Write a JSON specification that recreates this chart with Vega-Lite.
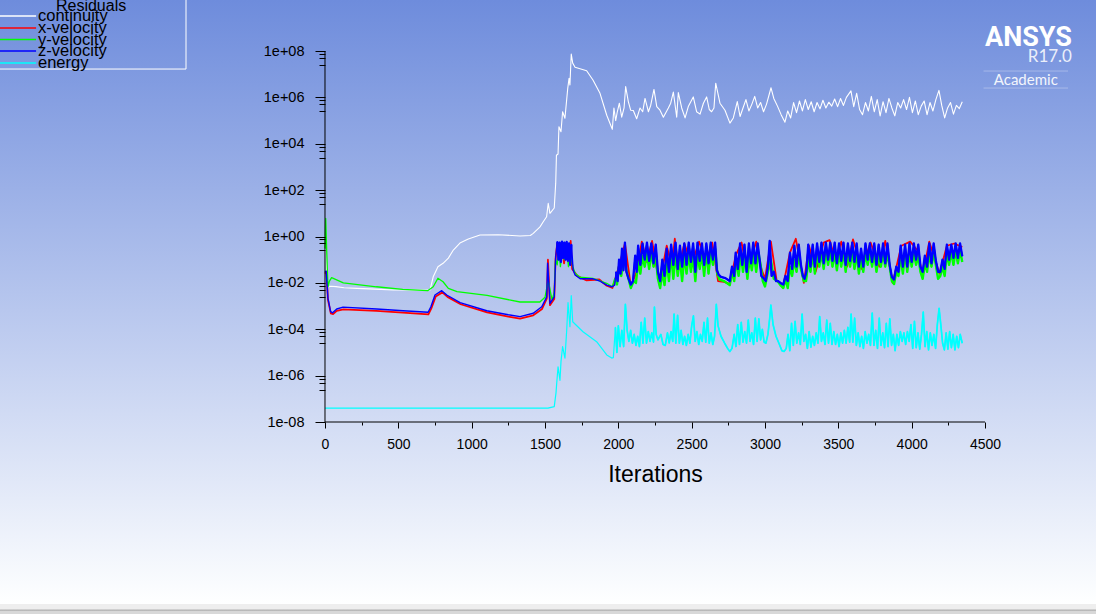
{
  "$schema": "https://vega.github.io/schema/vega-lite/v6.json",
  "description": "ANSYS Fluent scaled residuals against iterations",
  "width": 1096,
  "height": 614,
  "padding": 0,
  "autosize": "none",
  "view": {"stroke": null},
  "config": {"font": "Liberation Sans"},
  "datasets": {
    "continuity": [
      {"i":0,"r":1.1},{"i":4,"r":0.9},{"i":10,"r":0.05},{"i":18,"r":0.0066},{"i":40,"r":0.0072},{"i":75,"r":0.0069},{"i":130,"r":0.0062},{"i":218,"r":0.0058},{"i":340,"r":0.0054},{"i":466,"r":0.0049},{"i":600,"r":0.0049},{"i":716,"r":0.0049},{"i":738,"r":0.0184},{"i":770,"r":0.05},{"i":805,"r":0.07},{"i":841,"r":0.117},{"i":875,"r":0.26},{"i":920,"r":0.52},{"i":977,"r":0.78},{"i":1057,"r":1.16},{"i":1180,"r":1.2},{"i":1330,"r":1.05},{"i":1400,"r":1.1},{"i":1420,"r":1.37},{"i":1466,"r":2.6},{"i":1488,"r":4.3},{"i":1511,"r":7.1},{"i":1522,"r":27},{"i":1534,"r":10},{"i":1563,"r":17},{"i":1573,"r":200},{"i":1578,"r":3200},{"i":1589,"r":3600},{"i":1595,"r":54000},{"i":1609,"r":33000},{"i":1620,"r":240000},{"i":1636,"r":126000},{"i":1655,"r":2450000},{"i":1664,"r":6600000},{"i":1670,"r":3400000},{"i":1679,"r":74000000},{"i":1689,"r":30000000},{"i":1705,"r":20000000},{"i":1784,"r":14000000},{"i":1827,"r":5600000},{"i":1875,"r":1500000},{"i":1921,"r":170000},{"i":1959,"r":42000},
      {"i":1970,"r":350000},{"i":1982,"r":100000},{"i":1993,"r":240000},{"i":2007,"r":560000},{"i":2023,"r":140000},{"i":2039,"r":350000},{"i":2050,"r":2900000},{"i":2068,"r":660000},{"i":2084,"r":280000},{"i":2102,"r":270000},{"i":2125,"r":120000},{"i":2148,"r":350000},{"i":2166,"r":240000},{"i":2182,"r":900000},{"i":2205,"r":240000},{"i":2221,"r":460000},{"i":2243,"r":2200000},{"i":2262,"r":400000},{"i":2284,"r":280000},{"i":2307,"r":140000},{"i":2341,"r":350000},{"i":2357,"r":560000},{"i":2375,"r":1700000},{"i":2398,"r":140000},{"i":2409,"r":1600000},{"i":2432,"r":350000},{"i":2455,"r":130000},{"i":2477,"r":400000},{"i":2511,"r":1050000},{"i":2534,"r":240000},{"i":2557,"r":190000},{"i":2580,"r":560000},{"i":2602,"r":1050000},{"i":2620,"r":300000},{"i":2636,"r":240000},{"i":2652,"r":350000},{"i":2664,"r":4100000},{"i":2693,"r":560000},{"i":2727,"r":280000},{"i":2761,"r":78000},{"i":2784,"r":130000},{"i":2811,"r":660000},{"i":2830,"r":150000},{"i":2850,"r":350000},{"i":2870,"r":800000},{"i":2890,"r":260000},{"i":2910,"r":500000},{"i":2930,"r":1100000},{"i":2950,"r":350000},{"i":2970,"r":600000},{"i":2990,"r":240000},{"i":3010,"r":500000},{"i":3041,"r":2600000},{"i":3060,"r":900000},{"i":3085,"r":420000},{"i":3110,"r":180000},{"i":3136,"r":85000},{"i":3155,"r":260000},{"i":3175,"r":130000},{"i":3195,"r":600000},{"i":3215,"r":220000},{"i":3235,"r":700000},{"i":3255,"r":260000},{"i":3275,"r":800000},{"i":3295,"r":300000},{"i":3315,"r":650000},{"i":3335,"r":240000},{"i":3355,"r":600000},{"i":3375,"r":320000},{"i":3395,"r":750000},{"i":3415,"r":350000},{"i":3435,"r":620000},{"i":3455,"r":420000},{"i":3475,"r":850000},{"i":3495,"r":400000},{"i":3515,"r":900000},{"i":3535,"r":450000},{"i":3555,"r":1000000},{"i":3586,"r":1900000},{"i":3605,"r":400000},{"i":3625,"r":1500000},{"i":3645,"r":300000},{"i":3665,"r":180000},{"i":3685,"r":600000},{"i":3705,"r":260000},{"i":3725,"r":1100000},{"i":3745,"r":240000},{"i":3765,"r":800000},{"i":3785,"r":160000},{"i":3805,"r":650000},{"i":3825,"r":220000},{"i":3845,"r":900000},{"i":3865,"r":350000},{"i":3885,"r":160000},{"i":3905,"r":600000},{"i":3925,"r":350000},{"i":3945,"r":800000},{"i":3965,"r":300000},{"i":3985,"r":1000000},{"i":4005,"r":220000},{"i":4025,"r":700000},{"i":4045,"r":180000},{"i":4065,"r":420000},{"i":4085,"r":700000},{"i":4105,"r":180000},{"i":4125,"r":600000},{"i":4145,"r":260000},{"i":4165,"r":800000},{"i":4186,"r":2000000},{"i":4205,"r":450000},{"i":4225,"r":130000},{"i":4245,"r":350000},{"i":4265,"r":600000},{"i":4285,"r":190000},{"i":4305,"r":450000},{"i":4325,"r":330000},{"i":4345,"r":650000}
    ],
    "xvel": [
      {"i":0,"r":0.025},{"i":10,"r":0.03},{"i":20,"r":0.0019},{"i":40,"r":0.00048},{"i":55,"r":0.00045},{"i":80,"r":0.00062},{"i":125,"r":0.00072},{"i":350,"r":0.00062},{"i":530,"r":0.00052},{"i":705,"r":0.00044},{"i":725,"r":0.0008},{"i":755,"r":0.0026},{"i":800,"r":0.0039},{"i":835,"r":0.0025},{"i":925,"r":0.0012},{"i":1105,"r":0.00054},{"i":1250,"r":0.00035},{"i":1330,"r":0.00029},{"i":1420,"r":0.0004},{"i":1480,"r":0.00075},{"i":1512,"r":0.0021},{"i":1520,"r":0.1},{"i":1534,"r":0.0011},{"i":1563,"r":0.002},{"i":1572,"r":0.11},{"i":1583,"r":0.5},
      {"i":1600,"r":0.1},{"i":1615,"r":0.55},{"i":1630,"r":0.07},{"i":1645,"r":0.5},{"i":1660,"r":0.08},{"i":1675,"r":0.65},{"i":1685,"r":0.04},{"i":1720,"r":0.02},{"i":1780,"r":0.013},{"i":1870,"r":0.014},{"i":1921,"r":0.0075},{"i":1960,"r":0.006},{"i":1985,"r":0.02},{"i":2020,"r":0.12},{"i":2045,"r":0.5},{"i":2085,"r":0.0075},{"i":2125,"r":0.03},{"i":2160,"r":0.6},{"i":2195,"r":0.08},{"i":2230,"r":0.65},{"i":2280,"r":0.009},{"i":2330,"r":0.4},{"i":2365,"r":0.05},{"i":2385,"r":0.8},{"i":2410,"r":0.04},{"i":2450,"r":0.5},{"i":2500,"r":0.06},{"i":2550,"r":0.6},{"i":2600,"r":0.08},{"i":2640,"r":0.55},{"i":2680,"r":0.012},{"i":2720,"r":0.011},{"i":2760,"r":0.009},{"i":2800,"r":0.15},{"i":2840,"r":0.55},{"i":2880,"r":0.03},{"i":2940,"r":0.6},{"i":2970,"r":0.05},{"i":3000,"r":0.015},{"i":3040,"r":0.6},{"i":3080,"r":0.012},{"i":3125,"r":0.0085},{"i":3170,"r":0.2},{"i":3210,"r":0.8},{"i":3265,"r":0.01},{"i":3300,"r":0.4},{"i":3345,"r":0.03},{"i":3400,"r":0.55},{"i":3440,"r":0.7},{"i":3480,"r":0.1},{"i":3520,"r":0.6},{"i":3560,"r":0.05},{"i":3600,"r":0.75},{"i":3660,"r":0.04},{"i":3720,"r":0.55},{"i":3780,"r":0.05},{"i":3820,"r":0.65},{"i":3870,"r":0.01},{"i":3930,"r":0.4},{"i":3990,"r":0.6},{"i":4040,"r":0.25},{"i":4075,"r":0.02},{"i":4120,"r":0.6},{"i":4190,"r":0.025},{"i":4240,"r":0.4},{"i":4290,"r":0.5},{"i":4345,"r":0.35}
    ],
    "yvel": [
      {"i":0,"r":0.3},{"i":5,"r":6},{"i":12,"r":0.2},{"i":20,"r":0.0068},{"i":30,"r":0.012},{"i":45,"r":0.017},{"i":125,"r":0.0101},{"i":350,"r":0.0068},{"i":530,"r":0.0053},{"i":700,"r":0.0046},{"i":738,"r":0.0068},{"i":770,"r":0.0158},{"i":805,"r":0.0112},{"i":841,"r":0.0058},{"i":900,"r":0.0042},{"i":1105,"r":0.0029},{"i":1330,"r":0.0015},{"i":1465,"r":0.0015},{"i":1500,"r":0.0024},{"i":1522,"r":0.013},{"i":1548,"r":0.0018},{"i":1563,"r":0.004},{"i":1572,"r":0.1},{"i":1583,"r":0.06},
      {"i":1595,"r":0.38},{"i":1605,"r":0.05},{"i":1618,"r":0.3},{"i":1630,"r":0.1},{"i":1645,"r":0.4},{"i":1660,"r":0.05},{"i":1672,"r":0.2},{"i":1690,"r":0.05},{"i":1705,"r":0.026},{"i":1740,"r":0.0175},{"i":1827,"r":0.0158},{"i":1921,"r":0.0096},{"i":1959,"r":0.0068},{"i":1975,"r":0.015},{"i":1990,"r":0.008},{"i":2005,"r":0.05},{"i":2020,"r":0.02},{"i":2035,"r":0.15},{"i":2050,"r":0.05},{"i":2065,"r":0.02},{"i":2085,"r":0.006},{"i":2105,"r":0.012},{"i":2120,"r":0.01},{"i":2135,"r":0.08},{"i":2150,"r":0.025},{"i":2165,"r":0.15},{"i":2180,"r":0.05},{"i":2195,"r":0.2},{"i":2210,"r":0.04},{"i":2225,"r":0.2},{"i":2240,"r":0.05},{"i":2255,"r":0.15},{"i":2270,"r":0.015},{"i":2285,"r":0.006},{"i":2300,"r":0.03},{"i":2315,"r":0.008},{"i":2330,"r":0.1},{"i":2345,"r":0.012},{"i":2360,"r":0.2},{"i":2375,"r":0.015},{"i":2390,"r":0.2},{"i":2405,"r":0.02},{"i":2420,"r":0.12},{"i":2435,"r":0.012},{"i":2450,"r":0.15},{"i":2465,"r":0.025},{"i":2480,"r":0.2},{"i":2495,"r":0.03},{"i":2510,"r":0.15},{"i":2525,"r":0.012},{"i":2540,"r":0.2},{"i":2555,"r":0.04},{"i":2570,"r":0.2},{"i":2585,"r":0.02},{"i":2600,"r":0.25},{"i":2615,"r":0.025},{"i":2630,"r":0.2},{"i":2645,"r":0.06},{"i":2660,"r":0.3},{"i":2675,"r":0.025},{"i":2690,"r":0.014},{"i":2720,"r":0.012},{"i":2760,"r":0.008},{"i":2775,"r":0.03},{"i":2790,"r":0.012},{"i":2805,"r":0.1},{"i":2820,"r":0.02},{"i":2835,"r":0.2},{"i":2850,"r":0.03},{"i":2865,"r":0.15},{"i":2880,"r":0.015},{"i":2895,"r":0.15},{"i":2910,"r":0.035},{"i":2925,"r":0.2},{"i":2940,"r":0.03},{"i":2955,"r":0.2},{"i":2970,"r":0.06},{"i":2985,"r":0.012},{"i":3000,"r":0.007},{"i":3020,"r":0.03},{"i":3040,"r":0.1},{"i":3060,"r":0.015},{"i":3085,"r":0.012},{"i":3105,"r":0.008},{"i":3125,"r":0.006},{"i":3140,"r":0.015},{"i":3155,"r":0.006},{"i":3170,"r":0.05},{"i":3185,"r":0.02},{"i":3200,"r":0.1},{"i":3215,"r":0.03},{"i":3230,"r":0.15},{"i":3245,"r":0.04},{"i":3265,"r":0.012},{"i":3280,"r":0.012},{"i":3295,"r":0.1},{"i":3310,"r":0.03},{"i":3325,"r":0.2},{"i":3340,"r":0.025},{"i":3355,"r":0.2},{"i":3370,"r":0.05},{"i":3385,"r":0.2},{"i":3400,"r":0.04},{"i":3415,"r":0.25},{"i":3430,"r":0.06},{"i":3445,"r":0.25},{"i":3460,"r":0.05},{"i":3475,"r":0.2},{"i":3490,"r":0.035},{"i":3505,"r":0.2},{"i":3520,"r":0.05},{"i":3535,"r":0.25},{"i":3550,"r":0.03},{"i":3565,"r":0.2},{"i":3580,"r":0.05},{"i":3595,"r":0.25},{"i":3610,"r":0.04},{"i":3625,"r":0.2},{"i":3640,"r":0.025},{"i":3655,"r":0.1},{"i":3670,"r":0.03},{"i":3685,"r":0.2},{"i":3700,"r":0.06},{"i":3715,"r":0.2},{"i":3730,"r":0.05},{"i":3745,"r":0.2},{"i":3760,"r":0.03},{"i":3775,"r":0.15},{"i":3790,"r":0.05},{"i":3805,"r":0.2},{"i":3820,"r":0.05},{"i":3835,"r":0.2},{"i":3850,"r":0.05},{"i":3865,"r":0.012},{"i":3880,"r":0.009},{"i":3895,"r":0.03},{"i":3910,"r":0.02},{"i":3925,"r":0.15},{"i":3940,"r":0.025},{"i":3955,"r":0.2},{"i":3970,"r":0.03},{"i":3985,"r":0.2},{"i":4000,"r":0.05},{"i":4015,"r":0.2},{"i":4030,"r":0.06},{"i":4045,"r":0.15},{"i":4060,"r":0.03},{"i":4075,"r":0.015},{"i":4090,"r":0.07},{"i":4105,"r":0.03},{"i":4120,"r":0.2},{"i":4135,"r":0.05},{"i":4150,"r":0.2},{"i":4165,"r":0.06},{"i":4180,"r":0.015},{"i":4195,"r":0.02},{"i":4210,"r":0.05},{"i":4225,"r":0.02},{"i":4240,"r":0.2},{"i":4255,"r":0.06},{"i":4270,"r":0.2},{"i":4285,"r":0.06},{"i":4300,"r":0.25},{"i":4315,"r":0.07},{"i":4330,"r":0.25},{"i":4345,"r":0.08}
    ],
    "zvel": [
      {"i":0,"r":0.03},{"i":8,"r":0.032},{"i":20,"r":0.0022},{"i":38,"r":0.00057},{"i":52,"r":0.00051},{"i":80,"r":0.00075},{"i":123,"r":0.0009},{"i":352,"r":0.00075},{"i":532,"r":0.00063},{"i":703,"r":0.00054},{"i":722,"r":0.00093},{"i":750,"r":0.003},{"i":796,"r":0.0046},{"i":830,"r":0.003},{"i":921,"r":0.0014},{"i":1103,"r":0.00063},{"i":1250,"r":0.00042},{"i":1330,"r":0.00035},{"i":1420,"r":0.00049},{"i":1478,"r":0.00093},{"i":1512,"r":0.0025},{"i":1518,"r":0.07},{"i":1534,"r":0.0013},{"i":1563,"r":0.0025},{"i":1573,"r":0.134},{"i":1584,"r":0.6},
      {"i":1592,"r":0.1},{"i":1600,"r":0.55},{"i":1608,"r":0.08},{"i":1616,"r":0.6},{"i":1624,"r":0.12},{"i":1632,"r":0.55},{"i":1640,"r":0.1},{"i":1648,"r":0.58},{"i":1656,"r":0.09},{"i":1664,"r":0.5},{"i":1672,"r":0.06},{"i":1680,"r":0.45},{"i":1692,"r":0.036},{"i":1705,"r":0.022},{"i":1740,"r":0.015},{"i":1827,"r":0.015},{"i":1875,"r":0.012},{"i":1921,"r":0.008},{"i":1955,"r":0.0068},
      {"i":1975,"r":0.008},{"i":1985,"r":0.03},{"i":1995,"r":0.012},{"i":2005,"r":0.1},{"i":2015,"r":0.025},{"i":2025,"r":0.3},{"i":2035,"r":0.035},{"i":2045,"r":0.55},{"i":2055,"r":0.03},{"i":2070,"r":0.015},{"i":2085,"r":0.0085},{"i":2100,"r":0.012},{"i":2115,"r":0.15},{"i":2125,"r":0.03},{"i":2135,"r":0.4},{"i":2150,"r":0.06},{"i":2165,"r":0.5},{"i":2180,"r":0.1},{"i":2195,"r":0.55},{"i":2210,"r":0.09},{"i":2225,"r":0.5},{"i":2240,"r":0.07},{"i":2255,"r":0.45},{"i":2270,"r":0.03},{"i":2285,"r":0.012},{"i":2300,"r":0.1},{"i":2315,"r":0.02},{"i":2330,"r":0.3},{"i":2345,"r":0.03},{"i":2360,"r":0.45},{"i":2375,"r":0.06},{"i":2390,"r":0.55},{"i":2405,"r":0.04},{"i":2420,"r":0.4},{"i":2435,"r":0.05},{"i":2450,"r":0.5},{"i":2465,"r":0.06},{"i":2480,"r":0.55},{"i":2495,"r":0.08},{"i":2510,"r":0.5},{"i":2525,"r":0.03},{"i":2540,"r":0.55},{"i":2555,"r":0.09},{"i":2570,"r":0.5},{"i":2585,"r":0.06},{"i":2600,"r":0.5},{"i":2615,"r":0.07},{"i":2630,"r":0.55},{"i":2645,"r":0.1},{"i":2660,"r":0.55},{"i":2672,"r":0.035},{"i":2685,"r":0.022},{"i":2700,"r":0.018},{"i":2730,"r":0.016},{"i":2760,"r":0.012},{"i":2775,"r":0.05},{"i":2790,"r":0.02},{"i":2800,"r":0.2},{"i":2815,"r":0.04},{"i":2830,"r":0.5},{"i":2845,"r":0.06},{"i":2860,"r":0.45},{"i":2875,"r":0.03},{"i":2890,"r":0.5},{"i":2905,"r":0.07},{"i":2920,"r":0.55},{"i":2935,"r":0.07},{"i":2950,"r":0.5},{"i":2965,"r":0.08},{"i":2975,"r":0.02},{"i":2990,"r":0.016},{"i":3005,"r":0.012},{"i":3020,"r":0.05},{"i":3032,"r":0.65},{"i":3045,"r":0.02},{"i":3060,"r":0.03},{"i":3075,"r":0.012},{"i":3090,"r":0.012},{"i":3105,"r":0.01},{"i":3125,"r":0.0085},{"i":3140,"r":0.02},{"i":3155,"r":0.012},{"i":3170,"r":0.2},{"i":3185,"r":0.04},{"i":3200,"r":0.4},{"i":3215,"r":0.05},{"i":3230,"r":0.45},{"i":3245,"r":0.06},{"i":3258,"r":0.02},{"i":3270,"r":0.015},{"i":3282,"r":0.03},{"i":3295,"r":0.45},{"i":3310,"r":0.05},{"i":3325,"r":0.45},{"i":3340,"r":0.05},{"i":3355,"r":0.5},{"i":3370,"r":0.08},{"i":3385,"r":0.55},{"i":3400,"r":0.07},{"i":3415,"r":0.55},{"i":3430,"r":0.1},{"i":3445,"r":0.55},{"i":3460,"r":0.09},{"i":3475,"r":0.55},{"i":3490,"r":0.07},{"i":3505,"r":0.5},{"i":3520,"r":0.09},{"i":3535,"r":0.55},{"i":3550,"r":0.06},{"i":3565,"r":0.5},{"i":3580,"r":0.09},{"i":3595,"r":0.55},{"i":3610,"r":0.08},{"i":3625,"r":0.5},{"i":3640,"r":0.05},{"i":3655,"r":0.3},{"i":3670,"r":0.05},{"i":3685,"r":0.5},{"i":3700,"r":0.1},{"i":3715,"r":0.5},{"i":3730,"r":0.08},{"i":3745,"r":0.5},{"i":3760,"r":0.06},{"i":3775,"r":0.45},{"i":3790,"r":0.08},{"i":3805,"r":0.5},{"i":3820,"r":0.07},{"i":3835,"r":0.5},{"i":3850,"r":0.06},{"i":3865,"r":0.018},{"i":3880,"r":0.014},{"i":3895,"r":0.05},{"i":3910,"r":0.03},{"i":3925,"r":0.4},{"i":3940,"r":0.05},{"i":3955,"r":0.45},{"i":3970,"r":0.05},{"i":3985,"r":0.5},{"i":4000,"r":0.08},{"i":4015,"r":0.5},{"i":4030,"r":0.1},{"i":4045,"r":0.45},{"i":4060,"r":0.05},{"i":4075,"r":0.03},{"i":4090,"r":0.15},{"i":4105,"r":0.05},{"i":4120,"r":0.5},{"i":4135,"r":0.07},{"i":4150,"r":0.5},{"i":4165,"r":0.09},{"i":4180,"r":0.03},{"i":4195,"r":0.03},{"i":4210,"r":0.1},{"i":4225,"r":0.04},{"i":4240,"r":0.45},{"i":4255,"r":0.1},{"i":4270,"r":0.45},{"i":4285,"r":0.12},{"i":4300,"r":0.5},{"i":4315,"r":0.12},{"i":4330,"r":0.5},{"i":4345,"r":0.14}
    ],
    "energy": [
      {"i":0,"r":4e-8},{"i":500,"r":4e-8},{"i":1000,"r":4e-8},{"i":1520,"r":4e-8},{"i":1563,"r":4.6e-8},{"i":1575,"r":1.8e-7},{"i":1580,"r":4.8e-7},{"i":1589,"r":2.4e-6},{"i":1602,"r":6.3e-7},{"i":1609,"r":4e-6},{"i":1620,"r":1.8e-5},{"i":1636,"r":5.7e-6},{"i":1648,"r":9e-5},{"i":1657,"r":0.0014},{"i":1670,"r":0.00013},{"i":1679,"r":0.0028},{"i":1689,"r":0.00021},{"i":1759,"r":7.8e-5},{"i":1852,"r":2.9e-5},{"i":1921,"r":7.8e-6},{"i":1955,"r":5.7e-6},
      {"i":1966,"r":6e-6},{"i":1980,"r":0.00012},{"i":1990,"r":1e-5},{"i":2000,"r":0.00014},{"i":2012,"r":1.8e-5},{"i":2024,"r":9e-5},{"i":2036,"r":1.8e-5},{"i":2048,"r":0.0012},{"i":2060,"r":9e-5},{"i":2072,"r":3e-5},{"i":2084,"r":9e-5},{"i":2096,"r":2.5e-5},{"i":2108,"r":6e-5},{"i":2120,"r":2e-5},{"i":2132,"r":5e-5},{"i":2144,"r":1.8e-5},{"i":2156,"r":2e-4},{"i":2168,"r":2.5e-5},{"i":2180,"r":3e-4},{"i":2192,"r":2.5e-5},{"i":2204,"r":8e-5},{"i":2216,"r":3e-5},{"i":2228,"r":7e-5},{"i":2240,"r":2.8e-5},{"i":2246,"r":0.0009},{"i":2258,"r":6e-5},{"i":2270,"r":3.5e-5},{"i":2290,"r":6e-5},{"i":2305,"r":2.2e-5},{"i":2320,"r":2e-5},{"i":2335,"r":7e-5},{"i":2347,"r":2.6e-5},{"i":2359,"r":8e-5},{"i":2371,"r":3e-5},{"i":2380,"r":0.00045},{"i":2392,"r":2.5e-5},{"i":2404,"r":0.0004},{"i":2416,"r":2.5e-5},{"i":2428,"r":9e-5},{"i":2440,"r":2.2e-5},{"i":2452,"r":5e-5},{"i":2464,"r":2e-5},{"i":2476,"r":6e-5},{"i":2488,"r":2.5e-5},{"i":2500,"r":0.00014},{"i":2512,"r":0.00038},{"i":2524,"r":3e-5},{"i":2536,"r":8e-5},{"i":2548,"r":2.2e-5},{"i":2560,"r":6e-5},{"i":2572,"r":3e-5},{"i":2584,"r":2e-4},{"i":2596,"r":2.8e-5},{"i":2608,"r":3e-4},{"i":2620,"r":2.5e-5},{"i":2632,"r":7e-5},{"i":2644,"r":2.2e-5},{"i":2656,"r":5e-5},{"i":2668,"r":0.0012},{"i":2680,"r":0.00014},{"i":2700,"r":5e-5},{"i":2725,"r":2.5e-5},{"i":2745,"r":1.5e-5},{"i":2760,"r":1.1e-5},{"i":2775,"r":1.5e-5},{"i":2790,"r":6e-5},{"i":2802,"r":1.8e-5},{"i":2814,"r":1.6e-4},{"i":2826,"r":2.2e-5},{"i":2838,"r":2e-4},{"i":2850,"r":2.8e-5},{"i":2862,"r":8e-5},{"i":2874,"r":2.5e-5},{"i":2886,"r":2.5e-4},{"i":2898,"r":3e-5},{"i":2910,"r":7e-5},{"i":2922,"r":2.2e-5},{"i":2934,"r":3e-4},{"i":2946,"r":3e-5},{"i":2958,"r":2.8e-4},{"i":2970,"r":3.5e-5},{"i":2982,"r":1e-4},{"i":2994,"r":2.8e-5},{"i":3006,"r":2.5e-5},{"i":3020,"r":6e-5},{"i":3032,"r":3e-4},{"i":3040,"r":0.0011},{"i":3055,"r":1.6e-4},{"i":3075,"r":5e-5},{"i":3095,"r":2.5e-5},{"i":3115,"r":1.2e-5},{"i":3130,"r":1.1e-5},{"i":3145,"r":1.5e-5},{"i":3157,"r":6e-5},{"i":3169,"r":1.2e-5},{"i":3181,"r":1.8e-4},{"i":3193,"r":2e-5},{"i":3205,"r":2.2e-4},{"i":3217,"r":2.5e-5},{"i":3229,"r":7e-5},{"i":3241,"r":2.2e-5},{"i":3253,"r":4.5e-4},{"i":3265,"r":3e-5},{"i":3277,"r":6e-5},{"i":3289,"r":1.5e-5},{"i":3301,"r":8e-5},{"i":3313,"r":1.7e-5},{"i":3325,"r":5e-5},{"i":3337,"r":2e-5},{"i":3349,"r":7e-5},{"i":3361,"r":2.5e-5},{"i":3373,"r":3.5e-4},{"i":3385,"r":3e-5},{"i":3397,"r":7e-5},{"i":3409,"r":2.2e-5},{"i":3421,"r":2.5e-4},{"i":3433,"r":2.5e-5},{"i":3445,"r":1.8e-4},{"i":3457,"r":2.2e-5},{"i":3469,"r":8e-5},{"i":3481,"r":2.2e-5},{"i":3493,"r":6e-5},{"i":3505,"r":1.8e-5},{"i":3517,"r":7e-5},{"i":3529,"r":2.5e-5},{"i":3541,"r":9e-5},{"i":3553,"r":2.5e-5},{"i":3565,"r":1.2e-4},{"i":3577,"r":2.8e-5},{"i":3587,"r":4.5e-4},{"i":3599,"r":2.8e-5},{"i":3611,"r":3e-4},{"i":3623,"r":2e-5},{"i":3635,"r":7e-5},{"i":3647,"r":1.8e-5},{"i":3659,"r":5e-5},{"i":3671,"r":1.5e-5},{"i":3683,"r":8e-5},{"i":3695,"r":2.5e-5},{"i":3707,"r":6e-5},{"i":3719,"r":2e-5},{"i":3731,"r":5e-4},{"i":3743,"r":2e-5},{"i":3755,"r":9e-5},{"i":3767,"r":1.5e-5},{"i":3779,"r":3e-4},{"i":3791,"r":2e-5},{"i":3803,"r":7e-5},{"i":3815,"r":1.6e-5},{"i":3827,"r":1.8e-4},{"i":3839,"r":1.8e-5},{"i":3851,"r":2.8e-4},{"i":3863,"r":2e-5},{"i":3875,"r":6e-5},{"i":3887,"r":1.2e-5},{"i":3899,"r":6e-5},{"i":3911,"r":2e-5},{"i":3923,"r":8e-5},{"i":3935,"r":3e-5},{"i":3947,"r":7e-5},{"i":3959,"r":2.2e-5},{"i":3971,"r":8e-5},{"i":3983,"r":3e-5},{"i":3995,"r":1.6e-4},{"i":4007,"r":1.5e-5},{"i":4019,"r":2.2e-4},{"i":4031,"r":1.6e-5},{"i":4043,"r":7e-5},{"i":4055,"r":1.4e-5},{"i":4067,"r":6e-5},{"i":4079,"r":5.5e-4},{"i":4091,"r":1.8e-5},{"i":4103,"r":8e-5},{"i":4115,"r":1.3e-5},{"i":4127,"r":7e-5},{"i":4139,"r":2e-5},{"i":4151,"r":6e-5},{"i":4163,"r":1.5e-5},{"i":4175,"r":1.6e-4},{"i":4187,"r":8e-4},{"i":4199,"r":1.5e-4},{"i":4211,"r":2.5e-5},{"i":4223,"r":1.3e-5},{"i":4235,"r":7e-5},{"i":4247,"r":1.4e-5},{"i":4259,"r":8e-5},{"i":4271,"r":1.6e-5},{"i":4283,"r":6e-5},{"i":4295,"r":1.3e-5},{"i":4307,"r":5e-5},{"i":4319,"r":1.6e-5},{"i":4331,"r":6e-5},{"i":4345,"r":2.5e-5}
    ]
  },
  "layer": [
    {
      "data": {"values": [{"panel": "backdrop"}]},
      "mark": {
        "type": "rect",
        "color": {
          "gradient": "linear",
          "x1": 0, "y1": 0, "x2": 0, "y2": 1,
          "stops": [
            {"offset": 0, "color": "#6e8cdc"},
            {"offset": 0.983, "color": "#feffff"},
            {"offset": 0.9837, "color": "#eeeeee"},
            {"offset": 0.992, "color": "#eeeeee"},
            {"offset": 0.9935, "color": "#aaaaaa"},
            {"offset": 0.996, "color": "#d8d8d8"},
            {"offset": 1, "color": "#d8d8d8"}
          ]
        }
      }
    },
    {
      "encoding": {
        "x": {
          "field": "i",
          "type": "quantitative",
          "scale": {"domain": [-2215.9, 5256.8], "nice": false, "zero": false},
          "axis": {
            "title": "Iterations",
            "orient": "bottom",
            "offset": -192,
            "zindex": 1,
            "domain": false,
            "grid": false,
            "values": [0,250,500,750,1000,1250,1500,1750,2000,2250,2500,2750,3000,3250,3500,3750,4000,4250,4500],
            "labelExpr": "datum.value % 500 == 0 ? format(datum.value, 'd') : ''",
            "tickSize": {"condition": {"test": "datum.value % 500 == 0", "value": 6}, "value": 3},
            "tickColor": "black",
            "labelColor": "black",
            "labelFont": "Liberation Sans",
            "labelFontSize": 14,
            "labelPadding": 9,
            "labelOverlap": false,
            "labelFlush": false,
            "titleFont": "Liberation Sans",
            "titleFontSize": 23,
            "titleFontWeight": "normal",
            "titleColor": "black",
            "titleX": 655,
            "titleY": 52,
            "titleAnchor": "middle",
            "titleBaseline": "middle"
          }
        },
        "y": {
          "field": "r",
          "type": "quantitative",
          "scale": {"type": "log", "domain": [5.25e-17, 1.585e10], "nice": false},
          "axis": {
            "title": null,
            "orient": "left",
            "offset": -325,
            "zindex": 1,
            "domain": false,
            "grid": false,
            "values": [1e8,7.5e7,5e7,2.5e7,1e6,7.5e5,5e5,2.5e5,1e4,7500,5000,2500,100,75,50,25,1,0.75,0.5,0.25,0.01,0.0075,0.005,0.0025,1e-4,7.5e-5,5e-5,2.5e-5,1e-6,7.5e-7,5e-7,2.5e-7,1e-8],
            "labelExpr": "abs(log(datum.value)/LN10 - round(log(datum.value)/LN10)) < 1e-6 ? (datum.value >= 1 ? '1e+' : '1e-') + pad(abs(round(log(datum.value)/LN10)), 2, '0', 'left') : ''",
            "tickSize": {"condition": {"test": "abs(log(datum.value)/LN10 - round(log(datum.value)/LN10)) < 1e-6", "value": 10}, "value": 6},
            "tickColor": "black",
            "labelColor": "black",
            "labelFont": "Liberation Sans",
            "labelFontSize": 14.5,
            "labelPadding": 11,
            "labelOverlap": false,
            "labelFlush": false
          }
        },
        "color": {
          "scale": {
            "domain": ["continuity", "x-velocity", "y-velocity", "z-velocity", "energy"],
            "range": ["#ffffff", "#ff0000", "#00ff00", "#0000ff", "#00ffff"]
          },
          "legend": null
        }
      },
      "layer": [
        {"data": {"name": "continuity"}, "mark": {"type": "line", "strokeWidth": 1.1, "strokeJoin": "round"}, "encoding": {"color": {"datum": "continuity", "type": "nominal"}}},
        {"data": {"name": "xvel"}, "mark": {"type": "line", "strokeWidth": 1.8, "strokeJoin": "round"}, "encoding": {"color": {"datum": "x-velocity", "type": "nominal"}}},
        {"data": {"name": "yvel"}, "mark": {"type": "line", "strokeWidth": 1.3, "strokeJoin": "round"}, "encoding": {"color": {"datum": "y-velocity", "type": "nominal"}}},
        {"data": {"name": "yvel"}, "transform": [{"filter": "datum.i > 1975"}], "mark": {"type": "line", "strokeWidth": 2.4, "strokeJoin": "round"}, "encoding": {"color": {"datum": "y-velocity", "type": "nominal"}}},
        {"data": {"name": "zvel"}, "mark": {"type": "line", "strokeWidth": 1.4, "strokeJoin": "round"}, "encoding": {"color": {"datum": "z-velocity", "type": "nominal"}}},
        {"data": {"name": "zvel"}, "transform": [{"filter": "datum.i > 1975"}], "mark": {"type": "line", "strokeWidth": 2.3, "strokeJoin": "round"}, "encoding": {"color": {"datum": "z-velocity", "type": "nominal"}}},
        {"data": {"name": "zvel"}, "transform": [{"filter": "datum.i > 1580 && datum.i < 1685"}], "mark": {"type": "line", "strokeWidth": 2.3, "strokeJoin": "round"}, "encoding": {"color": {"datum": "z-velocity", "type": "nominal"}}},
        {"data": {"name": "energy"}, "mark": {"type": "line", "strokeWidth": 1.2, "strokeJoin": "round"}, "encoding": {"color": {"datum": "energy", "type": "nominal"}}},
        {"data": {"name": "energy"}, "transform": [{"filter": "datum.i > 1975"}], "mark": {"type": "line", "strokeWidth": 1.7, "strokeJoin": "round"}, "encoding": {"color": {"datum": "energy", "type": "nominal"}}}
      ]
    },
    {
      "data": {"values": [{"axis": "y"}]},
      "mark": {"type": "rule", "color": "black", "strokeWidth": 1},
      "encoding": {"x": {"datum": 0, "type": "quantitative"}, "y": {"datum": 1e8, "type": "quantitative"}, "y2": {"datum": 1e-8}}
    },
    {
      "data": {"values": [{"axis": "x"}]},
      "mark": {"type": "rule", "color": "black", "strokeWidth": 1},
      "encoding": {"x": {"datum": 0, "type": "quantitative"}, "x2": {"datum": 4500}, "y": {"datum": 1e-8, "type": "quantitative"}}
    },
    {
      "data": {"values": [{"box": "legend"}]},
      "mark": {"type": "rect", "fillOpacity": 0, "stroke": "white", "strokeWidth": 1},
      "encoding": {"x": {"datum": -2500, "type": "quantitative"}, "x2": {"datum": -947.7}, "y": {"datum": 1e11, "type": "quantitative"}, "y2": {"datum": 1.67e7}}
    },
    {
      "data": {"values": [{"label": "Residuals"}]},
      "mark": {"type": "text", "font": "Liberation Sans", "fontSize": 16, "baseline": "middle", "align": "center", "color": "black"},
      "encoding": {"x": {"datum": -1595, "type": "quantitative"}, "y": {"datum": 8.7e9, "type": "quantitative"}, "text": {"field": "label"}}
    },
    {"data": {"values": [{"series": "continuity"}]}, "mark": {"type": "rule", "color": "#ffffff", "strokeWidth": 1.5}, "encoding": {"x": {"datum": -2216, "type": "quantitative"}, "x2": {"datum": -1970}, "y": {"datum": 3.22e9, "type": "quantitative"}}},
    {"data": {"values": [{"series": "x-velocity"}]}, "mark": {"type": "rule", "color": "#ff0000", "strokeWidth": 1.5}, "encoding": {"x": {"datum": -2216, "type": "quantitative"}, "x2": {"datum": -1970}, "y": {"datum": 9.8e8, "type": "quantitative"}}},
    {"data": {"values": [{"series": "y-velocity"}]}, "mark": {"type": "rule", "color": "#00ff00", "strokeWidth": 1.5}, "encoding": {"x": {"datum": -2216, "type": "quantitative"}, "x2": {"datum": -1970}, "y": {"datum": 3.13e8, "type": "quantitative"}}},
    {"data": {"values": [{"series": "z-velocity"}]}, "mark": {"type": "rule", "color": "#0000ff", "strokeWidth": 1.5}, "encoding": {"x": {"datum": -2216, "type": "quantitative"}, "x2": {"datum": -1970}, "y": {"datum": 1e8, "type": "quantitative"}}},
    {"data": {"values": [{"series": "energy"}]}, "mark": {"type": "rule", "color": "#00ffff", "strokeWidth": 1.5}, "encoding": {"x": {"datum": -2216, "type": "quantitative"}, "x2": {"datum": -1970}, "y": {"datum": 3.03e7, "type": "quantitative"}}},
    {"data": {"values": [{"series": "continuity"}]}, "mark": {"type": "text", "font": "Liberation Sans", "fontSize": 16.5, "align": "left", "baseline": "middle", "color": "black"}, "encoding": {"x": {"datum": -1957, "type": "quantitative"}, "y": {"datum": 3.22e9, "type": "quantitative"}, "text": {"field": "series"}}},
    {"data": {"values": [{"series": "x-velocity"}]}, "mark": {"type": "text", "font": "Liberation Sans", "fontSize": 16.5, "align": "left", "baseline": "middle", "color": "black"}, "encoding": {"x": {"datum": -1957, "type": "quantitative"}, "y": {"datum": 9.8e8, "type": "quantitative"}, "text": {"field": "series"}}},
    {"data": {"values": [{"series": "y-velocity"}]}, "mark": {"type": "text", "font": "Liberation Sans", "fontSize": 16.5, "align": "left", "baseline": "middle", "color": "black"}, "encoding": {"x": {"datum": -1957, "type": "quantitative"}, "y": {"datum": 3.13e8, "type": "quantitative"}, "text": {"field": "series"}}},
    {"data": {"values": [{"series": "z-velocity"}]}, "mark": {"type": "text", "font": "Liberation Sans", "fontSize": 16.5, "align": "left", "baseline": "middle", "color": "black"}, "encoding": {"x": {"datum": -1957, "type": "quantitative"}, "y": {"datum": 1e8, "type": "quantitative"}, "text": {"field": "series"}}},
    {"data": {"values": [{"series": "energy"}]}, "mark": {"type": "text", "font": "Liberation Sans", "fontSize": 16.5, "align": "left", "baseline": "middle", "color": "black"}, "encoding": {"x": {"datum": -1957, "type": "quantitative"}, "y": {"datum": 3.03e7, "type": "quantitative"}, "text": {"field": "series"}}},
    {
      "data": {"values": [{"label": "ANSYS"}]},
      "mark": {"type": "text", "font": "Roboto", "fontWeight": "bold", "fontSize": 27, "align": "right", "baseline": "alphabetic", "color": "white"},
      "encoding": {"x": {"datum": 5093, "type": "quantitative"}, "y": {"datum": 1.64e8, "type": "quantitative"}, "text": {"field": "label"}}
    },
    {
      "data": {"values": [{"label": "R17.0"}]},
      "mark": {"type": "text", "font": "Lato", "fontSize": 17, "align": "right", "baseline": "alphabetic", "opacity": 0.85, "color": "white"},
      "encoding": {"x": {"datum": 5093, "type": "quantitative"}, "y": {"datum": 3.35e7, "type": "quantitative"}, "text": {"field": "label"}}
    },
    {
      "data": {"values": [{"label": "Academic"}]},
      "mark": {"type": "text", "font": "Lato", "fontSize": 15, "align": "left", "baseline": "alphabetic", "opacity": 0.9, "color": "white"},
      "encoding": {"x": {"datum": 4560, "type": "quantitative"}, "y": {"datum": 3.41e6, "type": "quantitative"}, "text": {"field": "label"}}
    },
    {
      "data": {"values": [{"line": "upper"}]},
      "mark": {"type": "rule", "strokeWidth": 1, "opacity": 0.3, "color": "white"},
      "encoding": {"x": {"datum": 4490, "type": "quantitative"}, "x2": {"datum": 5066}, "y": {"datum": 1.37e7, "type": "quantitative"}}
    },
    {
      "data": {"values": [{"line": "lower"}]},
      "mark": {"type": "rule", "strokeWidth": 1, "opacity": 0.3, "color": "white"},
      "encoding": {"x": {"datum": 4490, "type": "quantitative"}, "x2": {"datum": 5066}, "y": {"datum": 2.53e6, "type": "quantitative"}}
    }
  ]
}
